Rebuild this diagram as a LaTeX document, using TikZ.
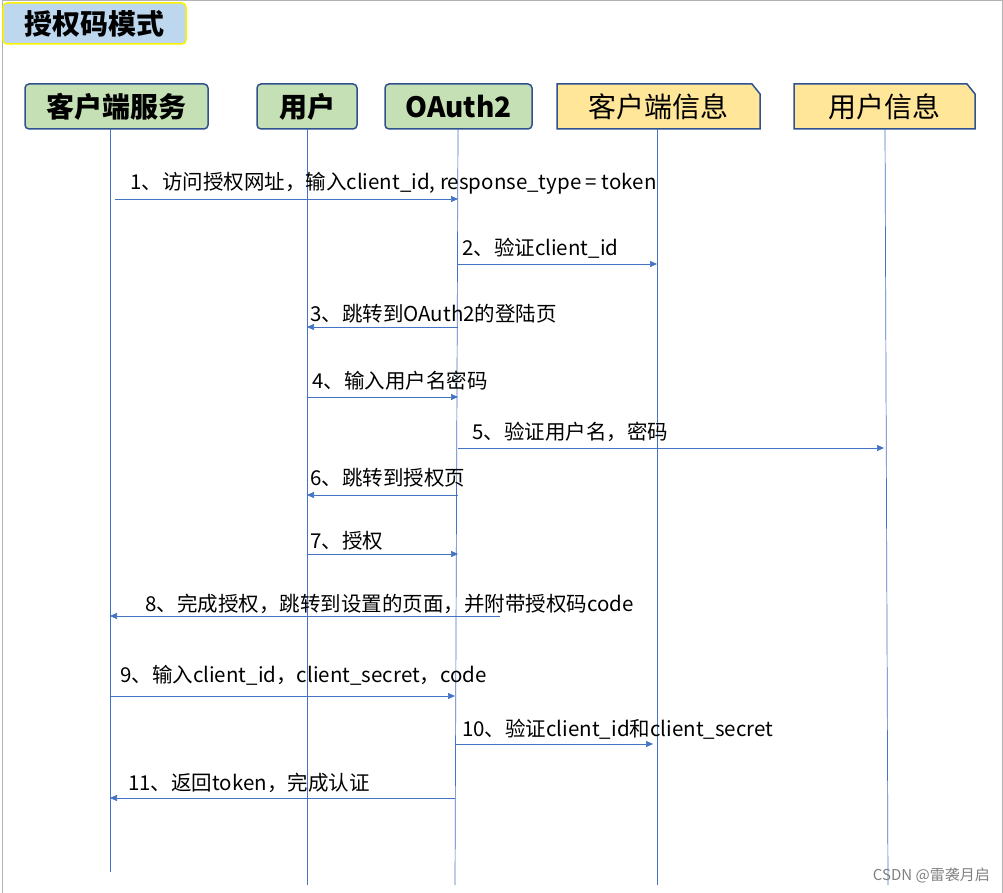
\documentclass[tikz,border=0pt]{standalone}
\usepackage{fontspec}
\setmainfont{Noto Sans CJK SC}
\usetikzlibrary{arrows.meta}
\definecolor{ln}{HTML}{4472C4}
\definecolor{bd}{HTML}{2F528F}
\definecolor{gr}{HTML}{C5E0B4}
\definecolor{yl}{HTML}{FFE699}
\definecolor{tb}{HTML}{BDD7EE}
\begin{document}
\begin{tikzpicture}[x=1pt,y=-1pt,
 hdr/.style={draw=bd,line width=1.5pt,rounded corners=4pt,fill=gr,font=\fontsize{28}{30}\selectfont\bfseries,minimum height=45pt,inner sep=0pt},
 life/.style={draw=ln,line width=0.7pt},
 msg/.style={draw=ln,line width=0.7pt,-{Triangle[length=7pt,width=6pt]}},
 lab/.style={font=\fontsize{20.5}{22}\selectfont,anchor=west,inner sep=0pt}]
\useasboundingbox (0,0) rectangle (1003,893);
\draw[gray!60,line width=1pt] (2,893) -- (2,1) -- (1002,1) -- (1002,893);
\node[draw=yellow,line width=1.5pt,fill=tb,rounded corners=4pt,minimum width=183pt,minimum height=41pt,font=\fontsize{28}{30}\selectfont\bfseries,inner sep=0pt] (title) at (94.5,23.5) {授权码模式};
\node[hdr,minimum width=183pt] (cs) at (116.5,106.5) {客户端服务};
\node[hdr,minimum width=100pt] (u) at (307,106.5) {用户};
\node[hdr,minimum width=147pt] (o) at (458.5,106.5) {OAuth2};
\draw[bd,line width=1.5pt,fill=yl] (557,84) -- (752,84) -- (760,94) -- (760,129) -- (557,129) -- cycle;
\node[font=\fontsize{28}{30}\selectfont,inner sep=0pt] (ci) at (658.5,106.5) {客户端信息};
\draw[bd,line width=1.5pt,fill=yl] (794,84) -- (967,84) -- (975,94) -- (975,129) -- (794,129) -- cycle;
\node[font=\fontsize{28}{30}\selectfont,inner sep=0pt] (ui) at (884.5,106.5) {用户信息};
\coordinate (csb) at (110,872); \coordinate (ub) at (307,885);
\coordinate (ob) at (455,885); \coordinate (cib) at (657,885); \coordinate (uib) at (888,885);
\draw[life] (110,129) -- (csb);
\draw[life] (307,129) -- (ub);
\draw[life] (458,129) -- (ob);
\draw[life] (657,129) -- (cib);
\draw[life] (885,129) -- (uib);
\coordinate (a1) at (115,199); \coordinate (b1) at (458,199);
\coordinate (a2) at (458,264); \coordinate (b2) at (657,264);
\coordinate (a3) at (458,327); \coordinate (b3) at (307,327);
\coordinate (a4) at (307,397); \coordinate (b4) at (458,397);
\coordinate (a5) at (458,448); \coordinate (b5) at (884,448);
\coordinate (a6) at (458,495); \coordinate (b6) at (307,495);
\coordinate (a7) at (307,554); \coordinate (b7) at (458,554);
\coordinate (a8) at (500,616); \coordinate (b8) at (110,616);
\coordinate (a9) at (110,696); \coordinate (b9) at (455,696);
\coordinate (a10) at (455,744); \coordinate (b10) at (653,744);
\coordinate (a11) at (455,798); \coordinate (b11) at (110,798);
\foreach \i in {1,...,11}{\draw[msg] (a\i) -- (b\i);}
\node[lab] (l1) at (130,183) {1、访问授权网址，输入client\_id, response\_type = token};
\node[lab] (l2) at (462,248) {2、验证client\_id};
\node[lab] (l3) at (310,314) {3、跳转到OAuth2的登陆页};
\node[lab] (l4) at (312,381) {4、输入用户名密码};
\node[lab] (l5) at (472,432) {5、验证用户名，密码};
\node[lab] (l6) at (310,478) {6、跳转到授权页};
\node[lab] (l7) at (310,541) {7、授权};
\node[lab] (l8) at (145,604) {8、完成授权，跳转到设置的页面，并附带授权码code};
\node[lab] (l9) at (120,675) {9、输入client\_id，client\_secret，code};
\node[lab] (l10) at (462,729) {10、验证client\_id和client\_secret};
\node[lab] (l11) at (128,783) {11、返回token，完成认证};
\node[font=\fontsize{15}{16}\selectfont,text=gray,anchor=east,inner sep=0pt] (wm) at (990,875) {CSDN @雷袭月启};
\end{tikzpicture}
\end{document}
